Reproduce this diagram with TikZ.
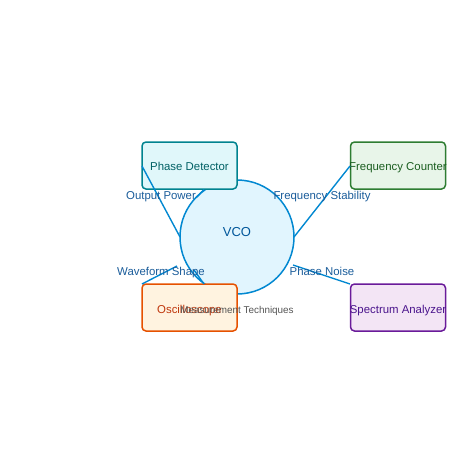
\documentclass[tikz,border=0pt]{standalone}
\usepackage{fontspec}
\setmainfont{Liberation Sans}
\begin{document}
\begin{tikzpicture}[x=1pt,y=-1pt,
  box/.style={draw, rounded corners=4pt, line width=1.5pt, minimum width=95pt, minimum height=47pt, inner sep=0pt},
  boxtext/.style={inner sep=0pt, text height=8.2pt, text depth=0pt, font=\fontsize{11.4}{13}\selectfont},
  edge/.style={draw=edgec, line width=1.4pt},
  elabel/.style={text=lblc, font=\fontsize{11.4}{13}\selectfont, inner sep=0pt, text height=8.2pt, text depth=0pt}]
\definecolor{edgec}{HTML}{0288D1}
\definecolor{lblc}{HTML}{1A5C9A}
\definecolor{vcofill}{HTML}{E1F5FE}
\definecolor{vcotext}{HTML}{01579B}
\useasboundingbox (0,0) rectangle (474,474);
% coordinates
\coordinate (c) at (237,237);
\coordinate (e1a) at (142,166);
\coordinate (e1b) at (180,237);
\coordinate (e1c) at (204,189.5);
\coordinate (e1d) at (196.5,197.5);
\coordinate (e2a) at (142,284);
\coordinate (e2b) at (177,266);
\coordinate (e2c) at (204,284);
\coordinate (e2d) at (194,270);
\coordinate (e3a) at (350,166);
\coordinate (e3b) at (294,237);
\coordinate (e4a) at (350,284);
\coordinate (e4b) at (293,265);
% VCO
\node[circle, draw=edgec, fill=vcofill, line width=1.5pt, minimum size=114pt, inner sep=0pt] (vco) at (c) {};
\node[text=vcotext, font=\fontsize{13}{15}\selectfont, inner sep=0pt, text height=9.3pt, text depth=0pt] (vcolbl) at (237,232) {VCO};
% boxes
\node[box, draw={rgb,255:red,0;green,131;blue,143}, fill={rgb,255:red,224;green,247;blue,250}] (pd) at (189.5,165.5) {};
\node[box, draw={rgb,255:red,46;green,125;blue,50}, fill={rgb,255:red,232;green,245;blue,233}] (fc) at (398,165.5) {};
\node[box, draw={rgb,255:red,230;green,81;blue,0}, fill={rgb,255:red,255;green,243;blue,224}] (os) at (189.5,307.5) {};
\node[box, draw={rgb,255:red,106;green,27;blue,154}, fill={rgb,255:red,243;green,229;blue,245}] (sa) at (398,307.5) {};
\node[boxtext, text={rgb,255:red,0;green,96;blue,100}] (pdt) at (189.5,166.5) {Phase Detector};
\node[boxtext, text={rgb,255:red,27;green,94;blue,32}] (fct) at (398,166.5) {Frequency Counter};
\node[boxtext, text={rgb,255:red,191;green,54;blue,12}] (ost) at (189.5,309) {Oscilloscope};
\node[boxtext, text={rgb,255:red,74;green,20;blue,140}] (sat) at (398,309) {Spectrum Analyzer};
% edges
\draw[edge] (e1a) -- (e1b);
\draw[edge] (e1c) -- (e1d);
\draw[edge] (e2a) -- (e2b);
\draw[edge] (e2c) -- (e2d);
\draw[edge] (e3a) -- (e3b);
\draw[edge] (e4a) -- (e4b);
% labels
\node[elabel] (l1) at (161,195) {Output Power};
\node[elabel] (l2) at (322,195) {Frequency Stability};
\node[elabel] (l3) at (161,271) {Waveform Shape};
\node[elabel] (l4) at (322,271) {Phase Noise};
\node[text={rgb,255:red,85;green,85;blue,85}, font=\fontsize{9.9}{11}\selectfont, inner sep=0pt, text height=7.1pt, text depth=0pt] (title) at (237,309.5) {Measurement Techniques};
\end{tikzpicture}
\end{document}
